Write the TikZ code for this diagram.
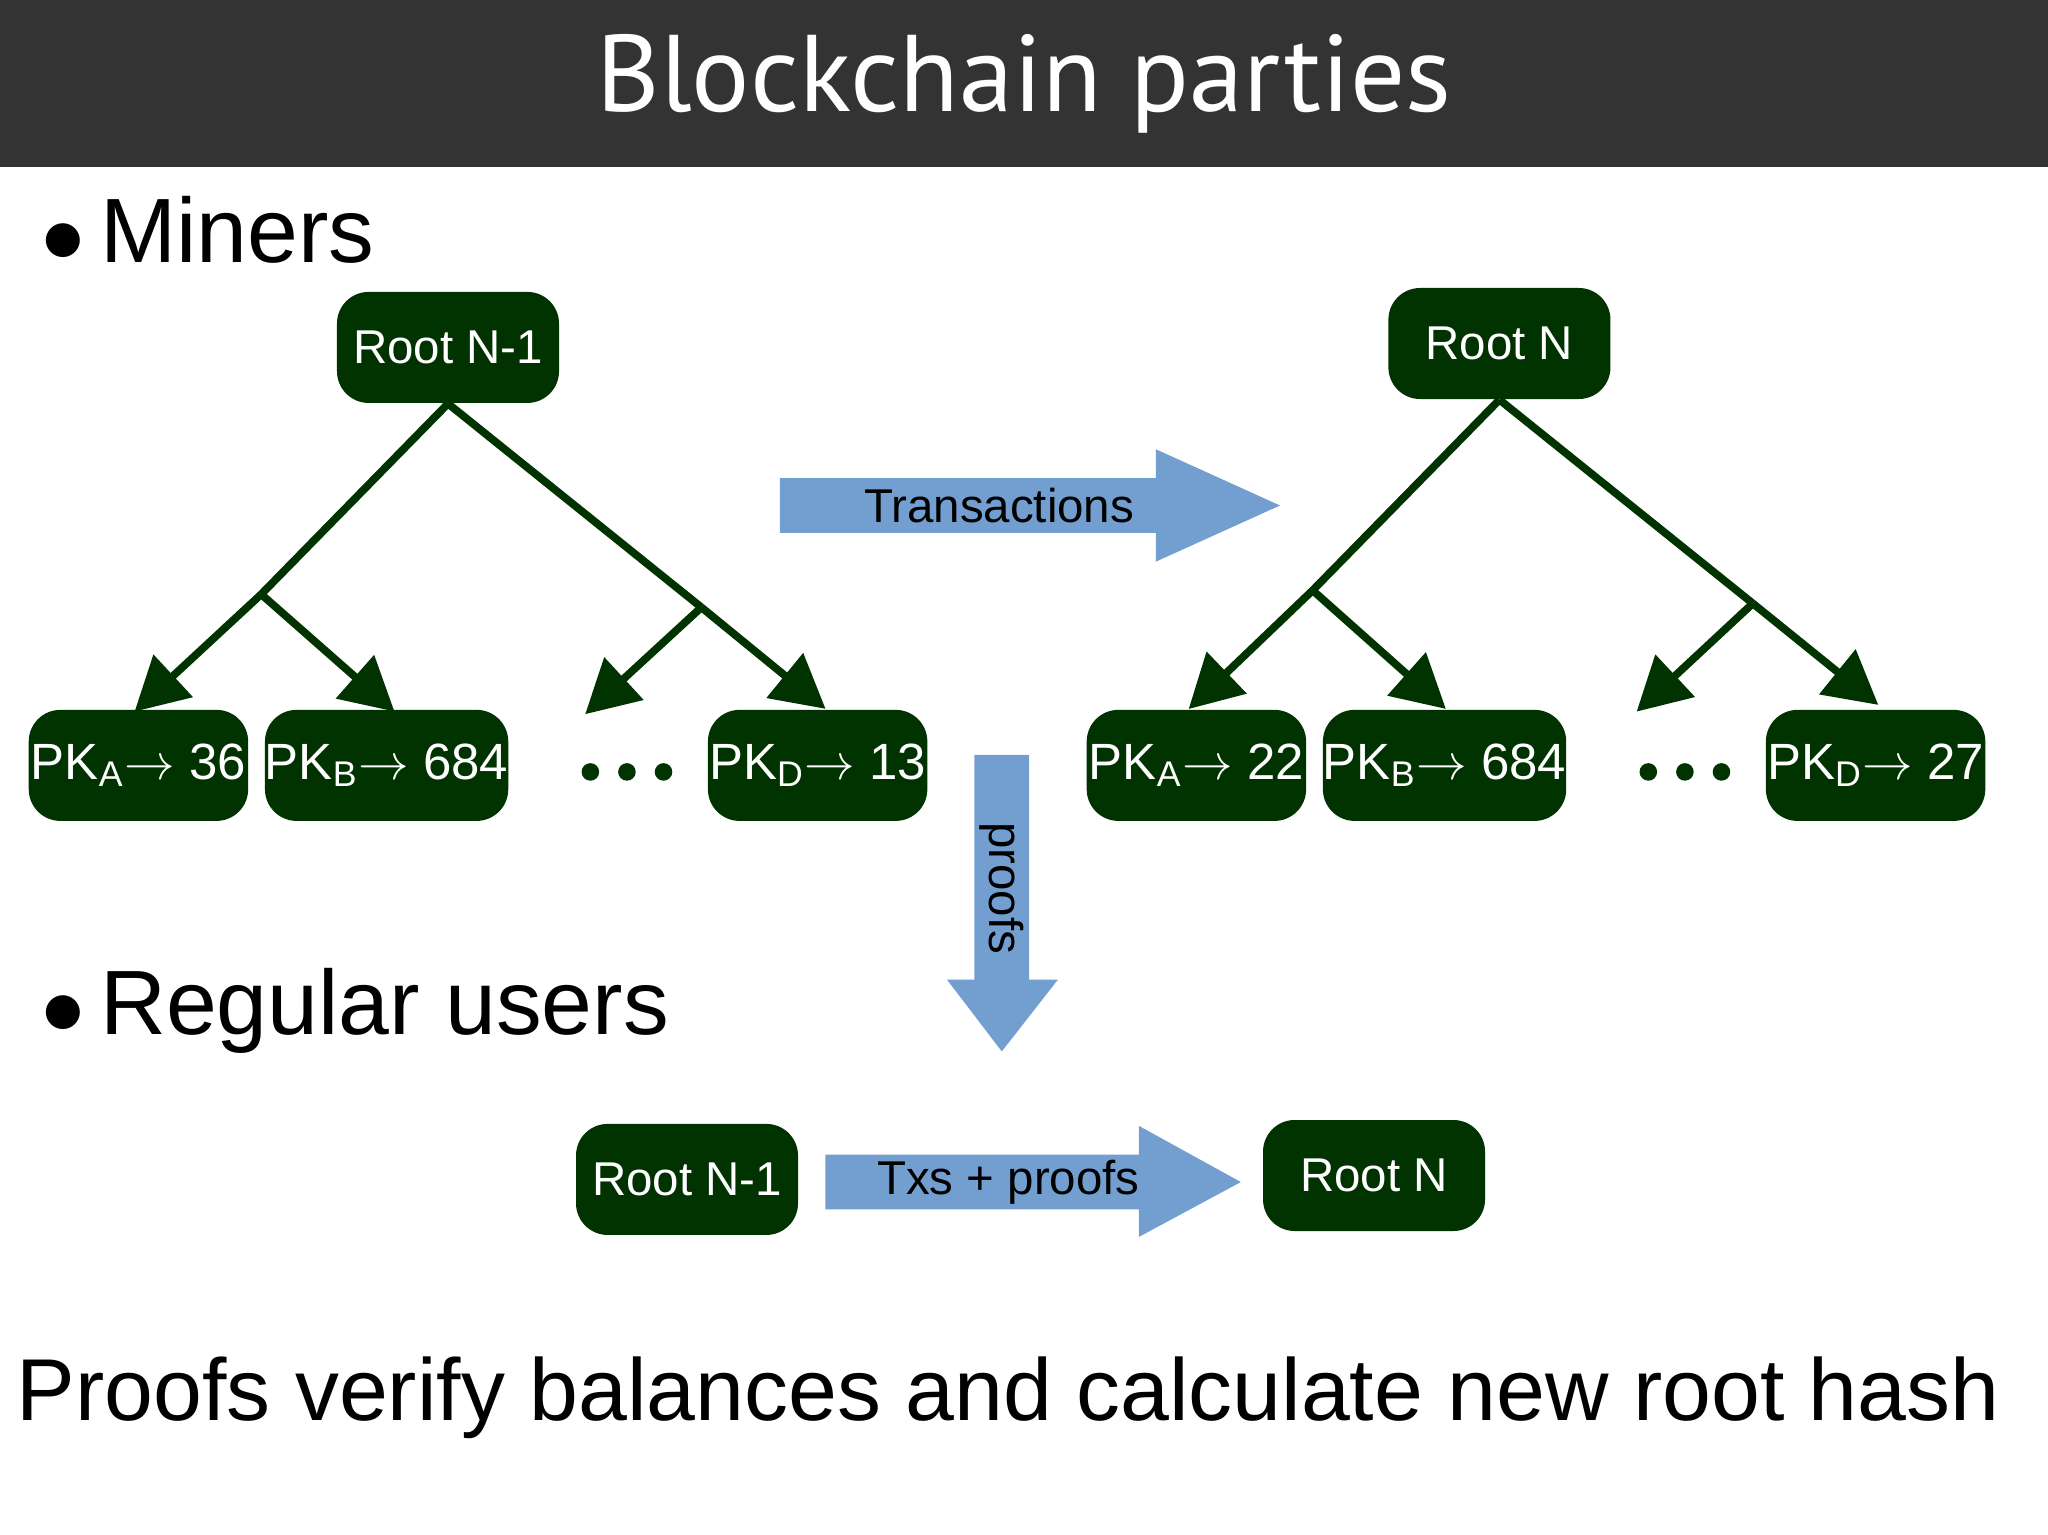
\documentclass[tikz,border=0pt]{standalone}
\usepackage{fontspec}
\setmainfont{Liberation Sans}
\newfontfamily\titlefont{PT Sans}
\usetikzlibrary{arrows.meta,shapes.arrows}
\definecolor{boxgreen}{HTML}{003300}
\definecolor{arrowblue}{HTML}{729FCF}
\definecolor{bar}{HTML}{333333}
\begin{document}
\begin{tikzpicture}[x=0.01306cm,y=-0.01306cm]
  \tikzset{
    box/.style={fill=boxgreen,rounded corners=9pt,minimum width=170*0.01306cm,
      minimum height=85*0.01306cm,inner sep=0pt,text=white,font=\fontsize{13.5}{15}\selectfont},
    leaf/.style={box,minimum width=168*0.01306cm,font=\fontsize{14.5}{16}\selectfont},
    branch/.style={draw=boxgreen,line width=2.2pt},
    edge/.style={branch,-{Triangle[length=15pt,width=16pt]},shorten >=-1pt},
    dot/.style={circle,fill=boxgreen,inner sep=0pt,minimum size=5pt},
    bigarrow/.style={fill=arrowblue},
    bullet/.style={anchor=west,font=\fontsize{26}{30}\selectfont}
  }
  \useasboundingbox (0,0) rectangle (1568,1175);
  % title
  \fill[bar] (0,0) rectangle (1568,128);
  \node[text=white,font=\titlefont\fontsize{31}{36}\selectfont] (title) at (784,64) {Blockchain parties};
  \node[bullet] (miners) at (22,176) {$\bullet$\,Miners};
  \node[bullet] (users) at (22,774) {$\bullet$\,Regular users};

  % left tree
  \node[box] (r1) at (343,266) {Root N-1};
  \node[leaf] (a1) at (106,586) {PK\textsubscript{A}$\rightarrow$ 36};
  \node[leaf] (b1) at (296,586) {PK\textsubscript{B}$\rightarrow$ 684};
  \node[leaf] (d1) at (626,586) {PK\textsubscript{D}$\rightarrow$ 13};
  \coordinate (l1) at (200,455);
  \coordinate (m1) at (537,465);
  \coordinate (ta1) at (105,543);
  \coordinate (tb1) at (300,543);
  \coordinate (tc1) at (450,545);
  \coordinate (td1) at (630,541);
  \draw[branch] (r1.south) -- (l1);
  \draw[branch] (r1.south) -- (m1);
  \draw[edge] (l1) -- (ta1);
  \draw[edge] (l1) -- (tb1);
  \draw[edge] (m1) -- (tc1);
  \draw[edge] (m1) -- (td1);
  \foreach \x [count=\i] in {452,480,508} \node[dot] (p1\i) at (\x,591) {};

  % right tree
  \node[box] (r2) at (1148,263) {Root N};
  \node[leaf] (a2) at (916,586) {PK\textsubscript{A}$\rightarrow$ 22};
  \node[leaf] (b2) at (1106,586) {PK\textsubscript{B}$\rightarrow$ 684};
  \node[leaf] (d2) at (1436,586) {PK\textsubscript{D}$\rightarrow$ 27};
  \coordinate (l2) at (1005,452);
  \coordinate (m2) at (1342,462);
  \coordinate (ta2) at (912,541);
  \coordinate (tb2) at (1105,541);
  \coordinate (tc2) at (1255,543);
  \coordinate (td2) at (1436,538);
  \draw[branch] (r2.south) -- (l2);
  \draw[branch] (r2.south) -- (m2);
  \draw[edge] (l2) -- (ta2);
  \draw[edge] (l2) -- (tb2);
  \draw[edge] (m2) -- (tc2);
  \draw[edge] (m2) -- (td2);
  \foreach \x [count=\i] in {1262,1290,1318} \node[dot] (p2\i) at (\x,591) {};

  % block arrows
  \fill[bigarrow] (597,366) -- (885,366) -- (885,344) -- (980,387) -- (885,430) -- (885,408) -- (597,408) -- cycle;
  \node[font=\fontsize{13.5}{15}\selectfont] (tx) at (765,387) {Transactions};
  \fill[bigarrow] (746,578) -- (788,578) -- (788,750) -- (810,750) -- (767,805) -- (725,750) -- (746,750) -- cycle;
  \node[rotate=-90,font=\fontsize{13.5}{15}\selectfont] (pr) at (767,680) {proofs};

  % regular users
  \node[box] (r3) at (526,903) {Root N-1};
  \node[box] (r4) at (1052,900) {Root N};
  \fill[bigarrow] (632,884) -- (872,884) -- (872,862) -- (950,905) -- (872,947) -- (872,926) -- (632,926) -- cycle;
  \node[font=\fontsize{13.5}{15}\selectfont] (txs) at (772,905) {Txs + proofs};

  \node[font=\fontsize{25}{30}\selectfont] (concl) at (772,1070) {Proofs verify balances and calculate new root hash};
\end{tikzpicture}
\end{document}
